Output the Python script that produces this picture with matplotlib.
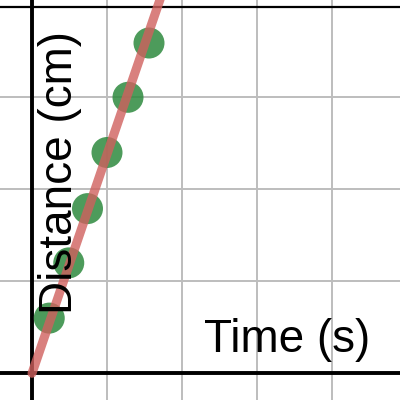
import matplotlib
matplotlib.use("Agg")
import matplotlib.pyplot as plt
import numpy as np

# data
time_s = [0.23, 0.49, 0.74, 1.00, 1.28, 1.56]
distance_cm = [0.60, 1.20, 1.79, 2.40, 3.00, 3.59]
fit_slope = 2.38
x_label = "Time (s)"
y_label = "Distance (cm)"
grid_x = [1, 2, 3, 4]
grid_y = [1, 2, 3]

fig = plt.figure(figsize=(4, 4), dpi=100)
ax = fig.add_axes([0, 0, 1, 1])
ax.set_xlim(-32 / 75, 368 / 75)
ax.set_ylim(-26.7 / 92, 373.3 / 92)
ax.axis("off")

for gx in grid_x:
    ax.axvline(gx, color="#bdbdbd", lw=1.4, zorder=1)
for gy in grid_y:
    ax.axhline(gy, color="#bdbdbd", lw=1.4, zorder=1)
ax.axhline(3.98, color="black", lw=1.6, zorder=2)
ax.axhline(0, color="black", lw=2.8, zorder=2)
ax.axvline(0, color="black", lw=2.8, zorder=2)

ax.scatter(time_s, distance_cm, s=(31 * 0.72) ** 2, color="#2e8a3e",
           alpha=0.85, edgecolors="none", zorder=3)

xs = np.array([0, 2.0])
ax.plot(xs, fit_slope * xs, color="#d0605e", alpha=0.8, lw=6.5,
        solid_capstyle="round", zorder=4)

ax.text(204 / 400, 1 - 352 / 400, x_label, transform=ax.transAxes,
        fontsize=33, family="Liberation Sans", ha="left", va="baseline", zorder=5)
ax.text(60 / 400, 1 - 173 / 400, y_label, transform=ax.transAxes,
        fontsize=33, family="Liberation Sans", rotation=90,
        ha="center", va="center", zorder=5)

fig.savefig("out.png", dpi=100)
